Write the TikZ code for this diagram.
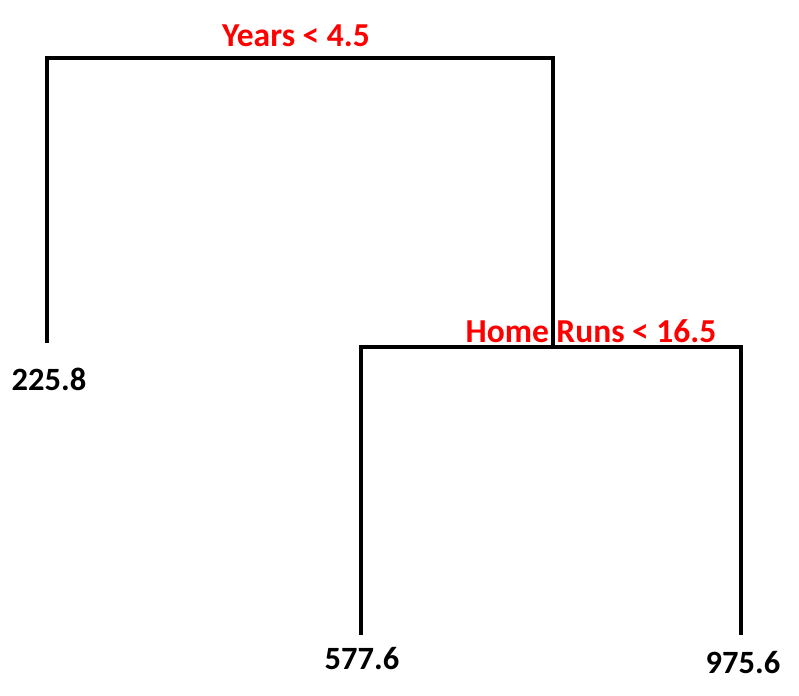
\documentclass[tikz,border=0pt]{standalone}
\usepackage{fontspec}
\setmainfont{Carlito}
\usetikzlibrary{positioning}
\tikzset{
  branch/.style={line width=3.6pt},
  splitlabel/.style={text=red, font=\bfseries\fontsize{33.5}{33.5}\selectfont, inner sep=0pt, anchor=base},
  leaflabel/.style={font=\bfseries\fontsize{32.5}{32.5}\selectfont, inner sep=0pt, anchor=base},
}
\begin{document}
\begin{tikzpicture}[x=1pt, y=-1pt]
\useasboundingbox (0,0) rectangle (799,695);

% first split
\coordinate (rootL) at (47, 58);
\coordinate (rootR) at (553, 58);
\coordinate (endA) at (47, 343);
\node[splitlabel] (years) at (296, 47) {Years < 4.5};

% second split
\coordinate (subM) at (553, 347);
\coordinate (subL) at (361, 347);
\coordinate (subR) at (741, 347);
\coordinate (endB) at (361, 635);
\coordinate (endC) at (741, 635);
\node[splitlabel] (homeruns) at (591, 342) {Home Runs < 16.5};

% leaves
\node[leaflabel] (leafA) at (49, 390) {225.8};
\node[leaflabel] (leafB) at (362, 669) {577.6};
\node[leaflabel] (leafC) at (743, 673) {975.6};

\draw[branch] (endA) -- (rootL) -- (rootR) -- (subM);
\draw[branch] (endB) -- (subL) -- (subR) -- (endC);

\end{tikzpicture}
\end{document}
